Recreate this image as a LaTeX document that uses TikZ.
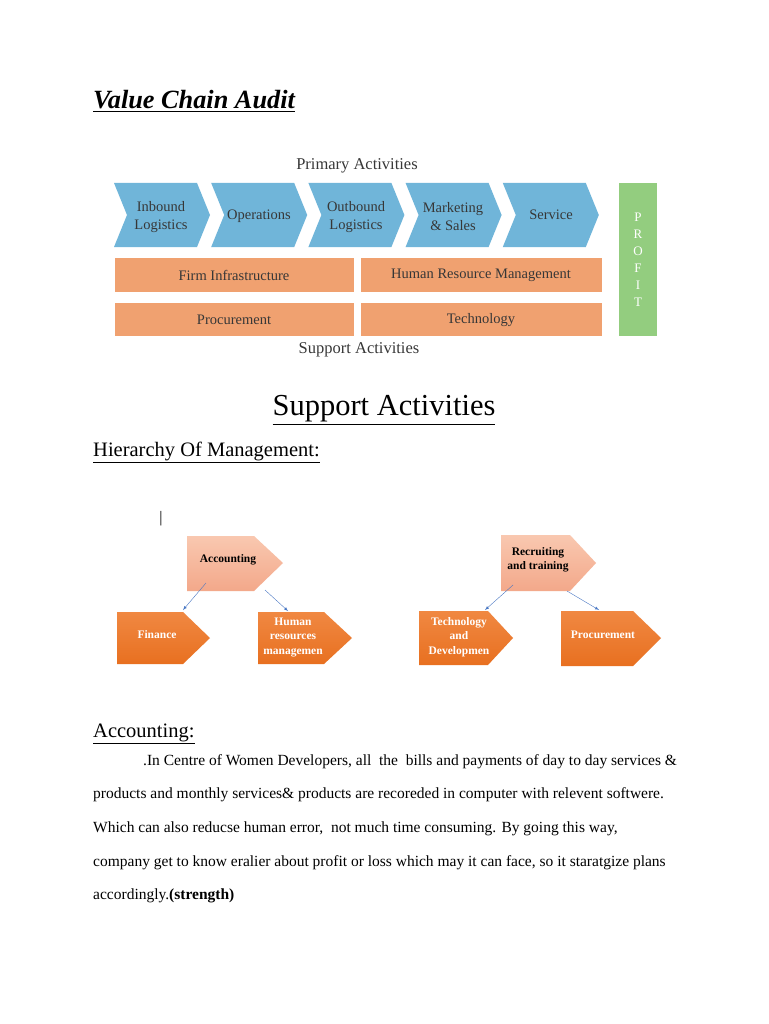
\documentclass[tikz,border=0pt]{standalone}
\usepackage{fontspec}
\setmainfont{Liberation Serif}
\usepackage{xcolor}
\usetikzlibrary{positioning}
\definecolor{chevblue}{RGB}{112,181,217}
\definecolor{suporange}{RGB}{240,161,112}
\definecolor{profgreen}{RGB}{147,205,127}
\definecolor{chevtext}{RGB}{55,55,55}
\definecolor{arrblue}{RGB}{74,120,196}
\definecolor{lighttop}{RGB}{249,200,176}
\definecolor{lightbot}{RGB}{243,168,138}
\definecolor{darktop}{RGB}{240,136,66}
\definecolor{darkbot}{RGB}{232,112,32}

\begin{document}
\begin{tikzpicture}
  [x=1pt,y=-1pt,
   chevlabel/.style={text=chevtext,align=center,font=\fontsize{14.5}{18}\selectfont},
   suplabel/.style={text=chevtext,font=\fontsize{14.5}{18}\selectfont},
   pentlight/.style={top color=lighttop,bottom color=lightbot},
   pentdark/.style={top color=darktop,bottom color=darkbot},
   pentblack/.style={text=black,align=center,font=\bfseries\fontsize{11.5}{14.5}\selectfont},
   pentwhite/.style={text=white,align=center,font=\bfseries\fontsize{11.5}{14.5}\selectfont},
   hier/.style={-latex,arrblue,thin},
   bodyline/.style={anchor=base west,inner sep=0pt,font=\fontsize{15.5}{17}\selectfont}]
  \useasboundingbox[fill=white] (0,0) rectangle (768,1024);

  % headings
  \node[anchor=base west,inner sep=0pt,font=\bfseries\itshape\fontsize{26.3}{30}\selectfont] (title) at (93,109) {\underline{Value Chain Audit}};
  \node[text=chevtext,font=\fontsize{16.5}{18}\selectfont] (primary) at (357,166) {Primary Activities};

  % primary activities
  \foreach \i in {0,...,4}
    \fill[chevblue] ({114+97.2*\i},183) -- ({197+97.2*\i},183) -- ({210+97.2*\i},215)
      -- ({197+97.2*\i},247) -- ({114+97.2*\i},247) -- ({127+97.2*\i},215) -- cycle;
  \node[chevlabel] (inbound) at (161,217) {Inbound\\Logistics};
  \node[chevlabel] (operations) at (259,216) {Operations};
  \node[chevlabel] (outbound) at (356,217) {Outbound\\Logistics};
  \node[chevlabel] (marketing) at (453,217) {Marketing\\\& Sales};
  \node[chevlabel] (service) at (551,215) {Service};

  % support activities
  \fill[suporange] (115,258) rectangle (354,292);
  \fill[suporange] (361,258) rectangle (602,292);
  \fill[suporange] (115,303) rectangle (354,336);
  \fill[suporange] (361,303) rectangle (602,336);
  \node[suplabel] (firm) at (234,275) {Firm Infrastructure};
  \node[suplabel] (hrm) at (481,275) {Human Resource Management};
  \node[suplabel] (proc) at (234,320) {Procurement};
  \node[suplabel] (tech) at (481,320) {Technology};
  \node[text=chevtext,font=\fontsize{16.5}{18}\selectfont] (support) at (359,350) {Support Activities};

  % profit
  \fill[profgreen] (619,183) rectangle (657,336);
  \foreach \ch [count=\k from 0] in {P,R,O,F,I,T}
    \node[text=white,font=\fontsize{13}{15}\selectfont] (profit\k) at (638,{217+17*\k}) {\ch};

  \node[font=\fontsize{30.5}{34}\selectfont] (supporthead) at (384,410) {\underline{Support Activities}};
  \node[anchor=base west,inner sep=0pt,font=\fontsize{20.5}{24}\selectfont] (hierarchy) at (93,456) {\underline{Hierarchy Of Management:}};
  \node[font=\fontsize{16}{18}\selectfont] (cursor) at (161,519) {|};

  % hierarchy of management
  \path[pentlight] (187,536) -- (254,536) -- (283,563) -- (254,591) -- (187,591) -- cycle;
  \path[pentdark] (117,612) -- (183,612) -- (210,638) -- (183,664) -- (117,664) -- cycle;
  \path[pentdark] (258,612) -- (324,612) -- (352,638) -- (324,664) -- (258,664) -- cycle;
  \path[pentlight] (501,535) -- (570,535) -- (596,563) -- (570,591) -- (501,591) -- cycle;
  \path[pentdark] (419,611) -- (488,611) -- (513,638) -- (488,665) -- (419,665) -- cycle;
  \path[pentdark] (561,611) -- (633,611) -- (661,638) -- (633,666) -- (561,666) -- cycle;

  \node[pentblack] (accounting) at (228,560) {Accounting};
  \node[pentwhite] (finance) at (157,635) {Finance};
  \node[pentwhite] (humanres) at (293,637) {Human\\resources\\managemen};
  \node[pentblack] (recruiting) at (538,560) {Recruiting\\and training};
  \node[pentwhite] (techdev) at (459,637) {Technology\\and\\Developmen};
  \node[pentwhite] (procure) at (603,635) {Procurement};

  \coordinate (acc-a) at (206,583);
  \coordinate (acc-b) at (265,590);
  \coordinate (fin-in) at (183,610);
  \coordinate (hum-in) at (288,611);
  \coordinate (rec-a) at (513,585);
  \coordinate (rec-b) at (567,591);
  \coordinate (tec-in) at (485,610);
  \coordinate (pro-in) at (599,610);
  \foreach \from/\to in {acc-a/fin-in,acc-b/hum-in,rec-a/tec-in,rec-b/pro-in}
    \draw[hier] (\from) -- (\to);

  % accounting text
  \node[anchor=base west,inner sep=0pt,font=\fontsize{20.5}{24}\selectfont] (acchead) at (93,737) {\underline{Accounting:}};
  \node[bodyline] (line1) at (143,765) {.In Centre of Women Developers, all\ \ the\ \ bills and payments of day to day services \&};
  \node[bodyline] (line2) at (93,798) {products and monthly services\& products are recoreded in computer with relevent softwere.};
  \node[bodyline] (line3) at (93,832) {Which can also reducse human error,\ \ not much time consuming. By going this way,};
  \node[bodyline] (line4) at (93,866) {company get to know eralier about profit or loss which may it can face, so it staratgize plans};
  \node[bodyline] (line5) at (93,899) {accordingly.\textbf{(strength)}};
\end{tikzpicture}
\end{document}
